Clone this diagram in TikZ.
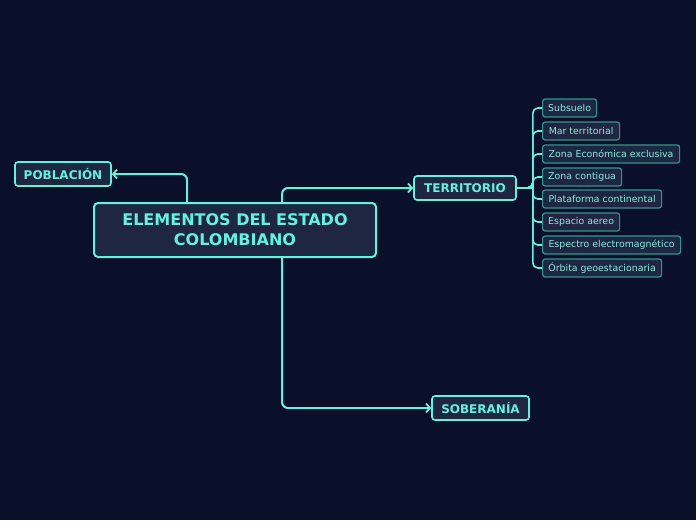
\documentclass[tikz,border=0pt]{standalone}
\usepackage{fontspec}
\setmainfont{DejaVu Sans}
\usetikzlibrary{arrows.meta,calc}
\definecolor{bg}{HTML}{0A1029}
\definecolor{nodefill}{HTML}{1E2641}
\definecolor{aqua}{HTML}{62F2E0}
\definecolor{leafline}{HTML}{33958D}
\definecolor{leaftext}{HTML}{8EEADD}
\tikzset{
  mainbox/.style={draw=aqua,fill=nodefill,line width=2pt,rounded corners=4pt,
    minimum width=282pt,minimum height=54pt,inner sep=0pt,align=center,
    text=aqua,font=\fontsize{16}{20}\selectfont\bfseries},
  topicbox/.style={draw=aqua,fill=nodefill,line width=1.6pt,rounded corners=3pt,
    minimum height=24pt,inner sep=0pt,text=aqua,font=\fontsize{12}{14}\selectfont\bfseries},
  leafbox/.style={draw=leafline,fill=nodefill,line width=1.2pt,rounded corners=2.5pt,
    minimum height=18pt,inner ysep=0pt,inner xsep=3pt,anchor=west,text=leaftext,
    font=\fontsize{9.4}{11}\selectfont},
  conn/.style={draw=aqua,line width=2pt,rounded corners=6pt},
  arr/.style={-{Straight Barb[length=4pt,width=9pt,line width=1.8pt]}},
  leafconn/.style={draw=aqua,line width=1.6pt,rounded corners=5pt},
}
\begin{document}
\begin{tikzpicture}[x=1pt,y=-1pt]
\fill[bg] (0,0) rectangle (696,520);
\useasboundingbox (0,0) rectangle (696,520);

\node[mainbox] (main) at (235,230) {ELEMENTOS DEL ESTADO\\COLOMBIANO};
\node[topicbox,minimum width=96pt] (pob) at (63,174) {POBLACIÓN};
\node[topicbox,minimum width=102pt] (terr) at (465,188) {TERRITORIO};
\node[topicbox,minimum width=97pt] (sob) at (480.5,408) {SOBERANÍA};

\node[leafbox,minimum width=54pt] (l1) at (542,108) {Subsuelo};
\node[leafbox,minimum width=77pt] (l2) at (542,131) {Mar territorial};
\node[leafbox,minimum width=137pt] (l3) at (542,154) {Zona Económica exclusiva};
\node[leafbox,minimum width=79pt] (l4) at (542,177) {Zona contigua};
\node[leafbox,minimum width=119pt] (l5) at (542,199) {Plataforma continental};
\node[leafbox,minimum width=77pt] (l6) at (542,222) {Espacio aereo};
\node[leafbox,minimum width=138pt] (l7) at (542,245) {Espectro electromagnético};
\node[leafbox,minimum width=119pt] (l8) at (542,268) {Órbita geoestacionaria};

\coordinate (pobstart) at ($(main.north west)+(94,0)$);
\coordinate (tstart) at ($(main.north west)+(189,0)$);
\coordinate (sstart) at ($(main.south west)+(189,0)$);
\coordinate (tj) at ($(terr.east)+(16,0)$);

\draw[conn,arr] (pobstart) |- (pob.east);
\draw[conn,arr] (tstart) |- (terr.west);
\draw[conn,arr] (sstart) |- (sob.west);

\draw[leafconn] (terr.east) -- (tj);
\foreach \l in {l1,l2,l3,l4,l5,l6,l7,l8}{
  \draw[leafconn] ($(terr.east)+(10,0)$) -| (tj) |- (\l.west);
}
\end{tikzpicture}
\end{document}
